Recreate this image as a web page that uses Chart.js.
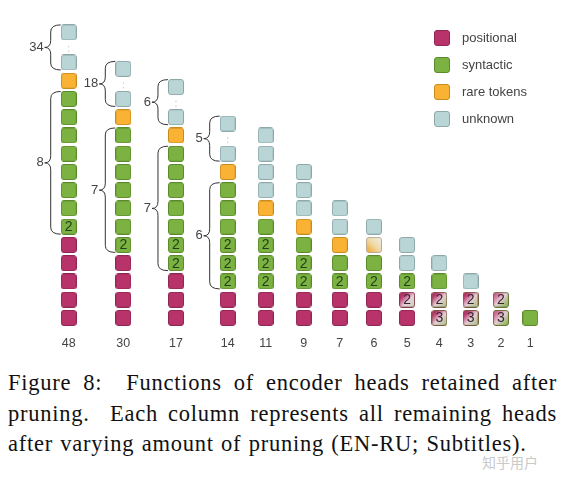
<!doctype html>
<html>
  <head>
    <title>encoder heads retained after pruning</title>
    <meta charset="UTF-8">
    <script src="https://cdn.jsdelivr.net/npm/chart.js"></script>
    <style>
      body { margin: 0; background: #fff; width: 567px; height: 483px; position: relative; overflow: hidden; }
      #wrap { position: absolute; left: 0; top: 0; width: 567px; height: 368px; }
      #caption { position: absolute; left: 8px; top: 368px; width: 549px; font-family: 'Liberation Serif', serif; font-size: 22.5px; letter-spacing: 0.75px; word-spacing: 1px; line-height: 30.7px; color: #111; }
      #caption .j { text-align: justify; text-align-last: justify; }
      #mark { position: absolute; left: 482px; top: 452px; font-family: 'Noto Sans CJK SC'; font-size: 14px; color: #c9c9c9; }
    </style>
  </head>
  <body>
    <div id="wrap"><canvas id="heads"></canvas></div>
    <div id="caption">
      <div class="j">Figure 8:&nbsp; Functions of encoder heads retained after</div>
      <div class="j">pruning.&nbsp; Each column represents all remaining heads</div>
      <div>after varying amount of pruning (EN-RU; Subtitles).</div>
    </div>
    <div id="mark">知乎用户</div>
    <script>
      // heads retained, one column each; squares counted bottom to top
      const heads       = ['48', '30', '17', '14', '11', '9', '7', '6', '5', '4', '3', '2', '1'];
      const positional  = [5, 4, 3, 2, 2, 2, 2, 2, 1, 0, 0, 0, 0];
      const mixedLabels = [[], [], [], [], [], [], [], [], ['2'], ['3', '2'], ['3', '2'], ['3', '2'], []];
      const mixedShare  = [0, 0, 0, 0, 0, 0, 0, 0, 0.2, 0.5, 0.5, 0.8, 0];  // how syntactic the mixed heads look
      const syntactic2  = [1, 1, 2, 3, 3, 2, 1, 1, 1, 0, 0, 0, 0];        // syntactic squares marked "2"
      const syntactic   = [7, 6, 5, 3, 1, 1, 1, 1, 0, 1, 0, 0, 1];
      const rare        = [1, 1, 1, 1, 1, 1, 1, 0, 0, 0, 0, 0, 0];
      const rareUnknown = [0, 0, 0, 0, 0, 0, 0, 1, 0, 0, 0, 0, 0];
      const unknown     = [34, 18, 6, 5, 4, 3, 2, 1, 2, 1, 1, 0, 0];

      const COLLAPSE = 5;     // this many unknown heads or more get drawn as two squares + brace
      const GAP = 1.65;       // rows between the two squares of a collapsed run
      const BRACE_GAP = 0.43; // extra room before a column that has braces
      const ROW_GAP = 0.035;  // taller columns sit a little further from the next one
      const SQ = 15;
      const FONT = "'Liberation Sans', Arial, sans-serif";

      const pts = { P: [], M: [], S: [], R: [], RU: [], U: [] };
      const braces = [];
      const colX = [];
      let prevRows = 0;
      heads.forEach((h, i) => {
        const braced = unknown[i] >= COLLAPSE;
        const x = i === 0 ? 0 : colX[i - 1] + 1 + (braced ? BRACE_GAP : 0) + ROW_GAP * prevRows;
        colX.push(x);
        let row = 0;
        const put = (k, extra) => pts[k].push(Object.assign({ x, y: row++ }, extra));
        for (let n = 0; n < positional[i]; n++) put('P');
        mixedLabels[i].forEach(t => put('M', { label: t, share: mixedShare[i] }));
        const synStart = row;
        for (let n = 0; n < syntactic2[i]; n++) put('S', { label: '2' });
        for (let n = 0; n < syntactic[i]; n++) put('S');
        const synEnd = row - 1;
        for (let n = 0; n < rare[i]; n++) put('R');
        for (let n = 0; n < rareUnknown[i]; n++) put('RU');
        if (braced) {
          pts.U.push({ x, y: row }, { x, y: row + GAP });
          braces.push({ x, lo: synStart, hi: synEnd, text: String(syntactic2[i] + syntactic[i]) });
          braces.push({ x, lo: row, hi: row + GAP, text: String(unknown[i]), dots: true });
          row += 2;
        } else {
          for (let n = 0; n < unknown[i]; n++) put('U');
        }
        prevRows = row;
      });

      const colors = {
        P: ['#b8336a', '#8f2754'],
        S: ['#7bb241', '#5b8a2c'],
        R: ['#f9b233', '#c98b1d'],
        U: ['#b9d5d6', '#8ea8aa'],
      };

      function tile(fill, stroke) {
        const c = document.createElement('canvas');
        c.width = c.height = SQ + 1;
        const g = c.getContext('2d');
        g.beginPath();
        g.roundRect(0.5, 0.5, SQ, SQ, 2.5);
        g.fillStyle = typeof fill === 'function' ? fill(g) : fill;
        g.fill();
        g.strokeStyle = stroke;
        g.lineWidth = 1;
        g.stroke();
        return c;
      }

      function mixHex(a, b, t) {
        const pa = [1, 3, 5].map(k => parseInt(a.substr(k, 2), 16));
        const pb = [1, 3, 5].map(k => parseInt(b.substr(k, 2), 16));
        return 'rgb(' + pa.map((v, k) => Math.round(v + (pb[k] - v) * t)).join(',') + ')';
      }

      const tiles = {
        P: tile(colors.P[0], colors.P[1]),
        S: tile(colors.S[0], colors.S[1]),
        R: tile(colors.R[0], colors.R[1]),
        U: tile(colors.U[0], colors.U[1]),
        RU: tile(g => {
          const gr = g.createLinearGradient(0, SQ, SQ, 0);
          gr.addColorStop(0, '#f4a521');
          gr.addColorStop(0.5, '#f0d9a8');
          gr.addColorStop(1, '#eef0ea');
          return gr;
        }, '#b9ad95'),
      };
      const mixTiles = {};
      function mixTile(s) {
        if (!mixTiles[s]) {
          mixTiles[s] = tile(g => {
            const gr = g.createLinearGradient(0, 0, SQ, SQ);
            const c0 = mixHex(colors.P[0], '#ffffff', Math.max(0, s - 0.5) * 0.8);
            gr.addColorStop(0, c0);
            gr.addColorStop(0.3 - 0.15 * s, c0);
            gr.addColorStop(0.62 - 0.12 * s, '#e6cdd8');
            gr.addColorStop(1, mixHex('#e4e6e2', colors.S[0], Math.min(1, s * 1.2)));
            return gr;
          }, mixHex('#8f2754', '#5b8a2c', s));
        }
        return mixTiles[s];
      }

      const ds = (label, data, style) => ({
        label, data, pointStyle: style, pointRadius: 8, pointHoverRadius: 8, clip: false
      });

      const extras = {
        id: 'extras',
        afterDatasetsDraw(chart) {
          const ctx = chart.ctx;
          const xs = chart.scales.x, ys = chart.scales.y;
          ctx.save();

          // numbers inside squares
          ctx.font = '14px ' + FONT;
          ctx.textAlign = 'center';
          ctx.textBaseline = 'middle';
          chart.data.datasets.forEach((d, di) => {
            const meta = chart.getDatasetMeta(di);
            d.data.forEach((p, j) => {
              if (!p.label) return;
              const el = meta.data[j];
              ctx.fillStyle = p.share !== undefined ? '#3a2630' : '#22401a';
              ctx.fillText(p.label, el.x, el.y + 0.5);
            });
          });

          // braces and the dotted gap of collapsed runs
          ctx.font = '13px ' + FONT;
          braces.forEach(b => {
            const cx = xs.getPixelForValue(b.x);
            const top = ys.getPixelForValue(b.hi) - SQ / 2;
            const bot = ys.getPixelForValue(b.lo) + SQ / 2;
            const mid = (top + bot) / 2, r = 7;
            const xEnd = cx - 8, xLine = cx - 18, xTip = cx - 24;
            ctx.strokeStyle = '#333';
            ctx.lineWidth = 1;
            ctx.setLineDash([]);
            ctx.beginPath();
            ctx.moveTo(xEnd, top);
            ctx.quadraticCurveTo(xLine, top, xLine, top + r);
            ctx.lineTo(xLine, mid - r);
            ctx.quadraticCurveTo(xLine, mid, xTip, mid);
            ctx.quadraticCurveTo(xLine, mid, xLine, mid + r);
            ctx.lineTo(xLine, bot - r);
            ctx.quadraticCurveTo(xLine, bot, xEnd, bot);
            ctx.stroke();
            ctx.fillStyle = '#444';
            ctx.textAlign = 'right';
            ctx.fillText(b.text, xTip - 1, mid);
            if (b.dots) {
              ctx.strokeStyle = '#dcbcc6';
              ctx.setLineDash([1.5, 3]);
              ctx.beginPath();
              ctx.moveTo(cx, ys.getPixelForValue(b.lo) - SQ / 2 - 3);
              ctx.lineTo(cx, ys.getPixelForValue(b.hi) + SQ / 2 + 3);
              ctx.stroke();
            }
          });

          // legend, top right
          ctx.setLineDash([]);
          ctx.textAlign = 'left';
          ctx.fillStyle = '#444';
          chart.data.datasets.slice(0, 4).forEach((d, k) => {
            const y = 38 + k * 27;
            ctx.drawImage(d.pointStyle, 434, y - 8);
            ctx.fillText(d.label, 462, y);
          });
          ctx.restore();
        }
      };

      new Chart(document.getElementById('heads'), {
        type: 'scatter',
        data: {
          datasets: [
            ds('positional', pts.P, tiles.P),
            ds('syntactic', pts.S, tiles.S),
            ds('rare tokens', pts.R, tiles.R),
            ds('unknown', pts.U, tiles.U),
            ds('positional + syntactic', pts.M, c => mixTile(c.raw ? c.raw.share : 0.5)),
            ds('rare + unknown', pts.RU, tiles.RU),
          ]
        },
        options: {
          responsive: true,
          maintainAspectRatio: false,
          animation: false,
          layout: { padding: { left: 55, right: 23, top: 26, bottom: 8 } },
          plugins: { legend: { display: false }, tooltip: { enabled: false } },
          scales: {
            x: {
              type: 'linear',
              min: -0.5,
              max: colX[colX.length - 1] + 0.5,
              grid: { display: false, drawTicks: false },
              border: { display: false },
              afterBuildTicks: axis => { axis.ticks = colX.map(v => ({ value: v })); },
              ticks: {
                autoSkip: false,
                maxRotation: 0,
                padding: 9,
                color: '#444',
                font: { family: FONT, size: 12.5 },
                callback: (v, i) => heads[i]
              }
            },
            y: { display: false, min: -0.5, max: 16 }
          }
        },
        plugins: [extras]
      });
    </script>
  </body>
</html>
